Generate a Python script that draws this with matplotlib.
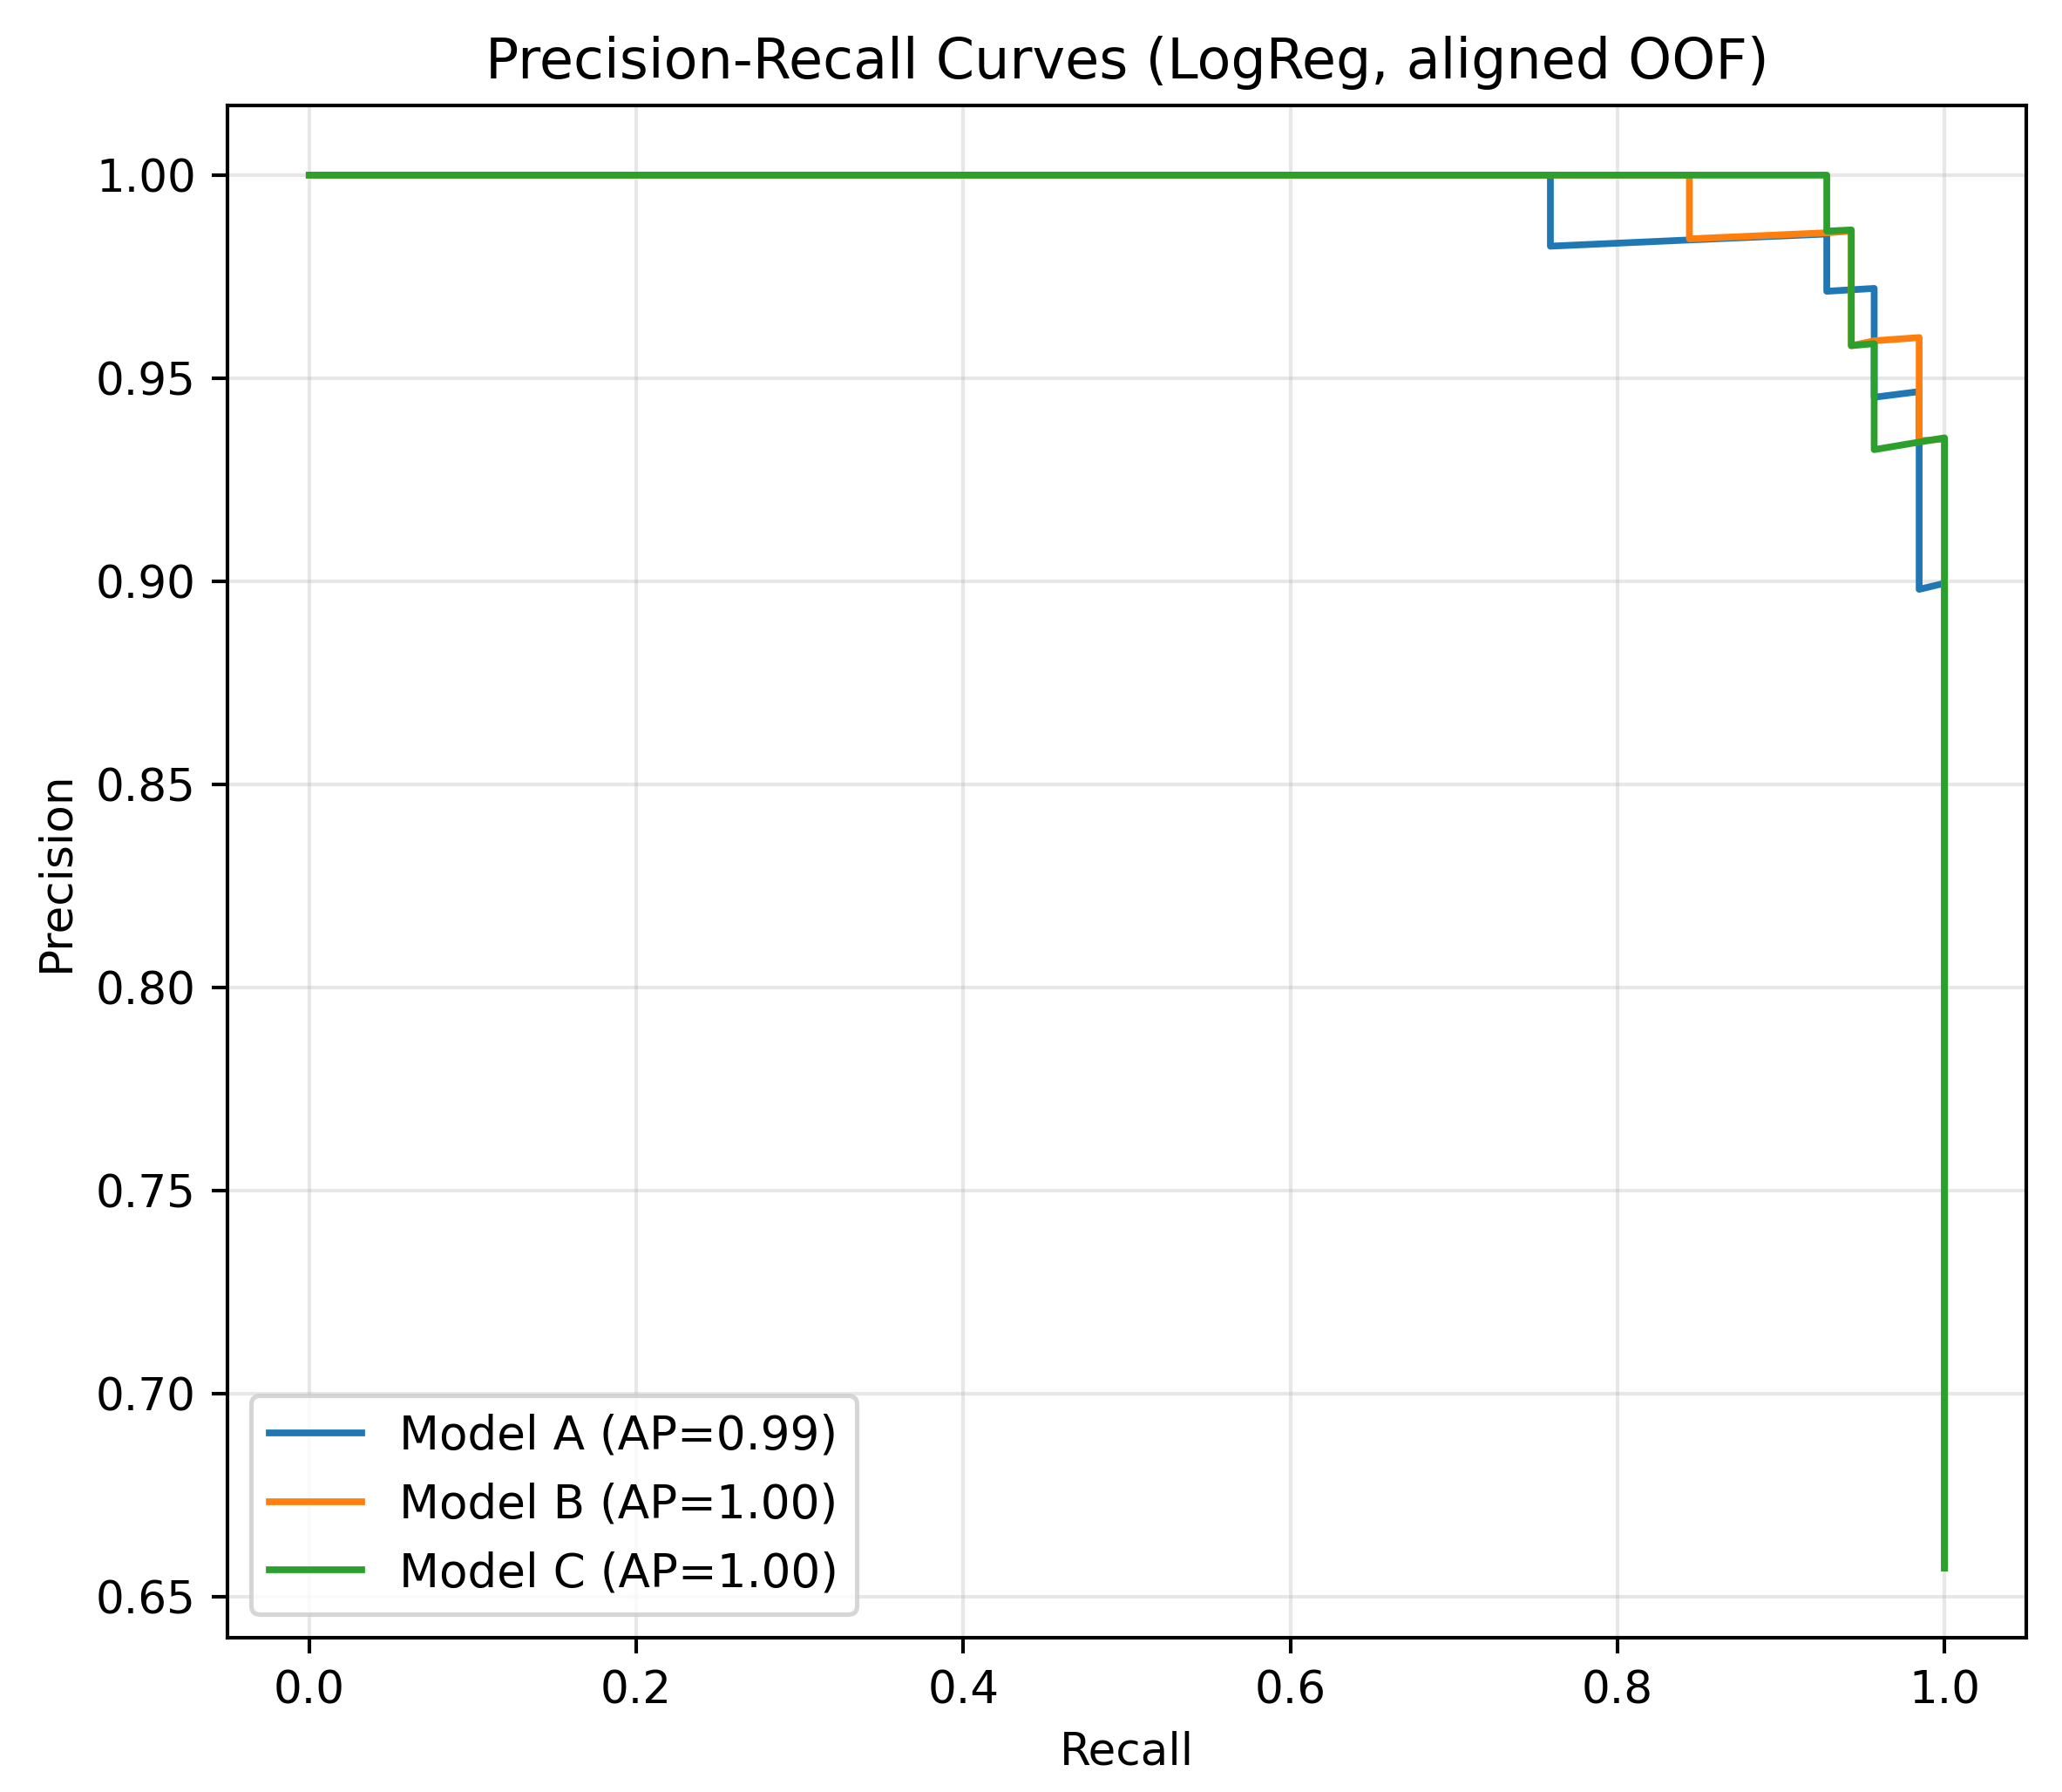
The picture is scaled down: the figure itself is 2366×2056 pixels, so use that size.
import matplotlib
matplotlib.use("Agg")
import matplotlib.pyplot as plt

# Data
recall_a = [0.0, 0.759, 0.759, 0.842, 0.928, 0.928, 0.957, 0.957, 0.9845, 0.9845, 1.0, 1.0]
prec_a   = [1.0, 1.0, 0.9825, 0.984, 0.9855, 0.9714, 0.9721, 0.9453, 0.9467, 0.898, 0.8995, 0.657]

recall_b = [0.0, 0.844, 0.844, 0.928, 0.943, 0.943, 0.957, 0.9845, 0.9845, 1.0, 1.0]
prec_b   = [1.0, 1.0, 0.9843, 0.9858, 0.9862, 0.958, 0.9592, 0.960, 0.9346, 0.935, 0.657]

recall_c = [0.0, 0.928, 0.928, 0.943, 0.943, 0.957, 0.957, 1.0, 1.0]
prec_c   = [1.0, 1.0, 0.9862, 0.9865, 0.958, 0.9585, 0.9324, 0.9353, 0.657]

labels = ["Model A (AP=0.99)", "Model B (AP=1.00)", "Model C (AP=1.00)"]

DPI = 372
fig = plt.figure(figsize=(2366 / DPI, 2056 / DPI), dpi=DPI)
ax = fig.add_axes([261 / 2366, 1 - 1879 / 2056, (2325 - 261) / 2366, (1879 - 121) / 2056])

ax.plot(recall_a, prec_a, label=labels[0])
ax.plot(recall_b, prec_b, label=labels[1])
ax.plot(recall_c, prec_c, label=labels[2])

ax.set_xlabel("Recall")
ax.set_ylabel("Precision")
ax.set_title("Precision-Recall Curves (LogReg, aligned OOF)", fontsize=12.3)
ax.grid(True, alpha=0.3)
ax.legend(loc="lower left", fontsize=10.3)

fig.savefig("out.png", dpi=DPI)
